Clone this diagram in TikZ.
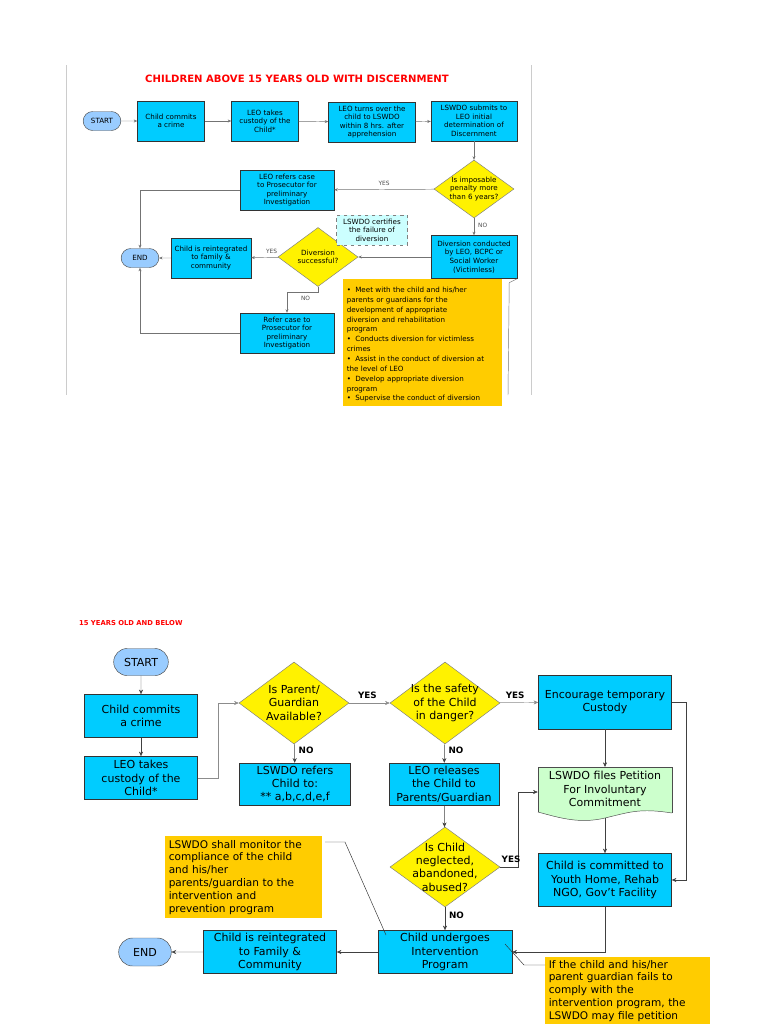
\documentclass[tikz,border=0pt]{standalone}
\usepackage{fontspec}
\setmainfont{DejaVu Sans}
\usetikzlibrary{shapes.geometric,shapes.misc,arrows.meta}
\definecolor{boxcyan}{HTML}{00CCFF}
\definecolor{termblue}{HTML}{99CCFF}
\definecolor{noteorange}{HTML}{FFCC00}
\definecolor{petgreen}{HTML}{CCFFCC}
\definecolor{certcyan}{HTML}{CCFFFF}
\newcommand\px[1]{#1*0.03cm}
\newcommand\blt{\par\hangindent=1.2em\hangafter=1\noindent\makebox[1.2em][l]{\textbullet}}
\begin{document}
\hyphenpenalty=10000 \exhyphenpenalty=10000
\begin{tikzpicture}
[x=0.03cm, y=-0.03cm,
 small/.style={font=\fontsize{6.1}{7.3}\selectfont, align=center},
 big/.style={font=\fontsize{9.4}{11.4}\selectfont, align=center},
 proc/.style={rectangle, draw=black!80, fill=boxcyan, inner sep=1pt},
 term/.style={rounded rectangle, draw=black!70, fill=termblue, inner sep=1pt},
 dec/.style={diamond, draw=black!50, fill=yellow, inner sep=0pt},
 note/.style={rectangle, fill=noteorange, align=left, inner sep=3pt},
 flow/.style={draw=black!55, -{Stealth[length=3pt,width=2.5pt]}},
 bflow/.style={draw=black!75, -{Stealth[length=4pt,width=3.5pt]}},
 lab/.style={font=\fontsize{5}{6}\selectfont, text=black!70},
 blab/.style={font=\bfseries\fontsize{7.5}{9}\selectfont}]
\useasboundingbox (0,0) rectangle (768,1024);
% ---------------- upper chart ----------------
\draw[black!20, thick] (66,65) -- (66,395);
\draw[black!20, thick] (531,65) -- (531,395);
\node[text=red, font=\bfseries\fontsize{8.6}{10}\selectfont] (title1) at (297,79)
  {CHILDREN ABOVE 15 YEARS OLD WITH DISCERNMENT};
\node[term, small, minimum width=\px{40}, minimum height=\px{19}] (start1) at (102,121) {START};
\node[proc, small, minimum width=\px{67}, minimum height=\px{40}] (commit1) at (171,121) {Child commits\\a crime};
\node[proc, small, minimum width=\px{67}, minimum height=\px{40}] (custody1) at (265,121) {LEO takes\\custody of the\\Child*};
\node[proc, small, minimum width=\px{87}, minimum height=\px{40}] (turn1) at (372,122) {LEO turns over the\\child to LSWDO\\within 8 hrs. after\\apprehension};
\node[proc, small, minimum width=\px{86}, minimum height=\px{40}] (submit1) at (474,121) {LSWDO submits to\\LEO initial\\determination of\\Discernment};
\node[dec, minimum width=\px{80}, minimum height=\px{58}, label={[small]center:Is imposable\\penalty more\\than 6 years?}] (penalty1) at (474,189) {};
\node[proc, small, minimum width=\px{94}, minimum height=\px{40}] (prosec1) at (287,190) {LEO refers case\\to Prosecutor for\\preliminary\\Investigation};
\node[proc, small, minimum width=\px{86}, minimum height=\px{43}] (divert1) at (474,257) {Diversion conducted\\by LEO, BCPC or\\Social Worker\\(Victimless)};
\node[dec, minimum width=\px{80}, minimum height=\px{59}, label={[small]center:Diversion\\successful?}] (success1) at (318,257) {};
\node[rectangle, draw=black!50, dashed, fill=certcyan, small, minimum width=\px{71}, minimum height=\px{26}] (cert1) at (372,230) {LSWDO certifies\\the failure of\\diversion};
\node[proc, small, minimum width=\px{80}, minimum height=\px{40}] (reint1) at (211,258) {Child is reintegrated\\to family \&\\community};
\node[term, small, minimum width=\px{40}, minimum height=\px{19}] (end1) at (140,258) {END};
\node[proc, small, minimum width=\px{94}, minimum height=\px{40}] (refer1) at (287,333) {Refer case to\\Prosecutor for\\preliminary\\Investigation};
\node[note, text width=\px{152}, font=\fontsize{6.1}{8.4}\selectfont, minimum height=\px{113}, anchor=north west] (tasks1) at (343,279)
  {\blt Meet with the child and his/her\\parents or guardians for the\\development of appropriate\\diversion and rehabilitation\\program
   \blt Conducts diversion for victimless\\crimes
   \blt Assist in the conduct of diversion at\\the level of LEO
   \blt Develop appropriate diversion\\program
   \blt Supervise the conduct of diversion};
\draw[flow] (start1) -- (commit1);
\draw[flow] (commit1) -- (custody1);
\draw[flow] (custody1) -- (turn1);
\draw[flow] (turn1) -- (submit1);
\draw[flow] (submit1) -- (penalty1);
\draw[flow] (penalty1) -- node[lab, above] {YES} (prosec1);
\draw[flow] (penalty1) -- node[lab, right, pos=0.4] {NO} (divert1);
\draw[flow] (divert1) -- (success1);
\draw[flow] (success1) -- node[lab, above, pos=0.25] {YES} (reint1);
\draw[flow] (reint1) -- (end1);
\draw[flow] (prosec1.west) -| (end1.north);
\draw[flow] (refer1.west) -| (end1.south);
\draw[flow] (success1.south) |- node[lab, below, pos=0.7] {NO} (287,292) -- (refer1.north);
\draw[black!55] (divert1.south east) -- ++(-8,4) -- (508,395);
% ---------------- lower chart ----------------
\node[text=red, font=\bfseries\fontsize{5.8}{7}\selectfont, anchor=west] (title2) at (75,623) {15 YEARS OLD AND BELOW};
\node[term, big, minimum width=\px{57}, minimum height=\px{27}] (start2) at (141,662) {START};
\node[proc, big, minimum width=\px{113}, minimum height=\px{43}] (commit2) at (141,716) {Child commits\\a crime};
\node[proc, big, minimum width=\px{113}, minimum height=\px{43}] (custody2) at (141,778) {LEO takes\\custody of the\\Child*};
\node[dec, minimum width=\px{110}, minimum height=\px{82}, label={[big]center:Is Parent/\\Guardian\\Available?}] (parent2) at (294,703) {};
\node[dec, minimum width=\px{110}, minimum height=\px{82}, label={[big]center:Is the safety\\of the Child\\in danger?}] (safety2) at (445,703) {};
\node[proc, big, minimum width=\px{133}, minimum height=\px{54}] (encour2) at (605,702) {Encourage temporary\\Custody};
\node[proc, big, minimum width=\px{111}, minimum height=\px{42}] (refers2) at (295,784) {LSWDO refers\\Child to:\\** a,b,c,d,e,f};
\node[proc, big, minimum width=\px{110}, minimum height=\px{42}] (release2) at (444,784) {LEO releases\\the Child to\\Parents/Guardian};
\node[big, minimum width=\px{134}, minimum height=\px{53}, inner sep=0pt] (petit2) at (605,792) {};
\fill[petgreen] (538,767) -- (672,767) -- (672,813) .. controls (640,808) and (630,812) .. (605,818)
  .. controls (580,824) and (560,818) .. (538,812) -- cycle;
\draw[black!70] (538,812) -- (538,767) -- (672,767) -- (672,813);
\draw[black!70] (672,813) .. controls (640,808) and (630,812) .. (605,818)
  .. controls (580,824) and (560,818) .. (538,812);
\node[big, inner sep=0pt] (petitxt) at (605,789) {LSWDO files Petition\\For Involuntary\\Commitment};
\node[dec, minimum width=\px{110}, minimum height=\px{80}, label={[big]center:Is Child\\neglected,\\abandoned,\\abused?}] (neglect2) at (445,867) {};
\node[proc, big, minimum width=\px{133}, minimum height=\px{53}] (commitd2) at (605,880) {Child is committed to\\Youth Home, Rehab\\NGO, Gov't Facility};
\node[proc, big, minimum width=\px{134}, minimum height=\px{43}] (interv2) at (445,952) {Child undergoes\\Intervention\\Program};
\node[proc, big, minimum width=\px{133}, minimum height=\px{43}] (reint2) at (270,952) {Child is reintegrated\\to Family \&\\Community};
\node[term, big, minimum width=\px{55}, minimum height=\px{28}] (end2) at (145,952) {END};
\node[note, text width=\px{150}, font=\fontsize{9}{10.9}\selectfont, minimum height=\px{82}, anchor=north west] (monitor2) at (165,836)
  {LSWDO shall monitor the\\compliance of the child\\and his/her\\parents/guardian to the\\intervention and\\prevention program};
\node[note, text width=\px{158}, font=\fontsize{9}{10.9}\selectfont, minimum height=\px{67}, anchor=north west, inner ysep=2pt] (fails2) at (545,957)
  {If the child and his/her\\parent guardian fails to\\comply with the\\intervention program, the\\LSWDO may file petition};
\draw[bflow] (start2) -- (commit2);
\draw[bflow] (commit2) -- (custody2);
\draw[draw=black!45, -{Stealth[length=4pt,width=3.5pt]}] (custody2.east) -- ++(20,0) |- (parent2.west);
\draw[draw=black!45, -{Stealth[length=4pt,width=3.5pt]}] (parent2) -- node[blab, above, pos=0.45] {YES} (safety2);
\draw[draw=black!45, -{Stealth[length=4pt,width=3.5pt]}] (safety2) -- node[blab, above, pos=0.4] {YES} (encour2);
\draw[bflow] (parent2) -- node[blab, right, pos=0.35] {NO} (refers2);
\draw[bflow] (safety2) -- node[blab, right, pos=0.35] {NO} (release2);
\draw[bflow] (release2) -- (neglect2);
\draw[bflow] (encour2.south) -- (605,767);
\draw[bflow] (encour2.east) -- ++(14,0) |- (commitd2.east);
\draw[bflow] (neglect2.east) -- node[blab, above, pos=0.6] {YES} ++(18,0) |- (petit2.west);
\draw[bflow] (605,818) -- (commitd2.north);
\draw[bflow] (commitd2.south) |- (interv2.east);
\draw[bflow] (neglect2) -- node[blab, right, pos=0.35] {NO} (interv2);
\draw[bflow] (interv2) -- (reint2);
\draw[bflow] (reint2) -- (end2);
\draw[black!80, thin] (325,842) -- (345,842) -- (386,935);
\draw[black!80, thin] (505,944) -- (524,965) -- (545,965);
\end{tikzpicture}
\end{document}
